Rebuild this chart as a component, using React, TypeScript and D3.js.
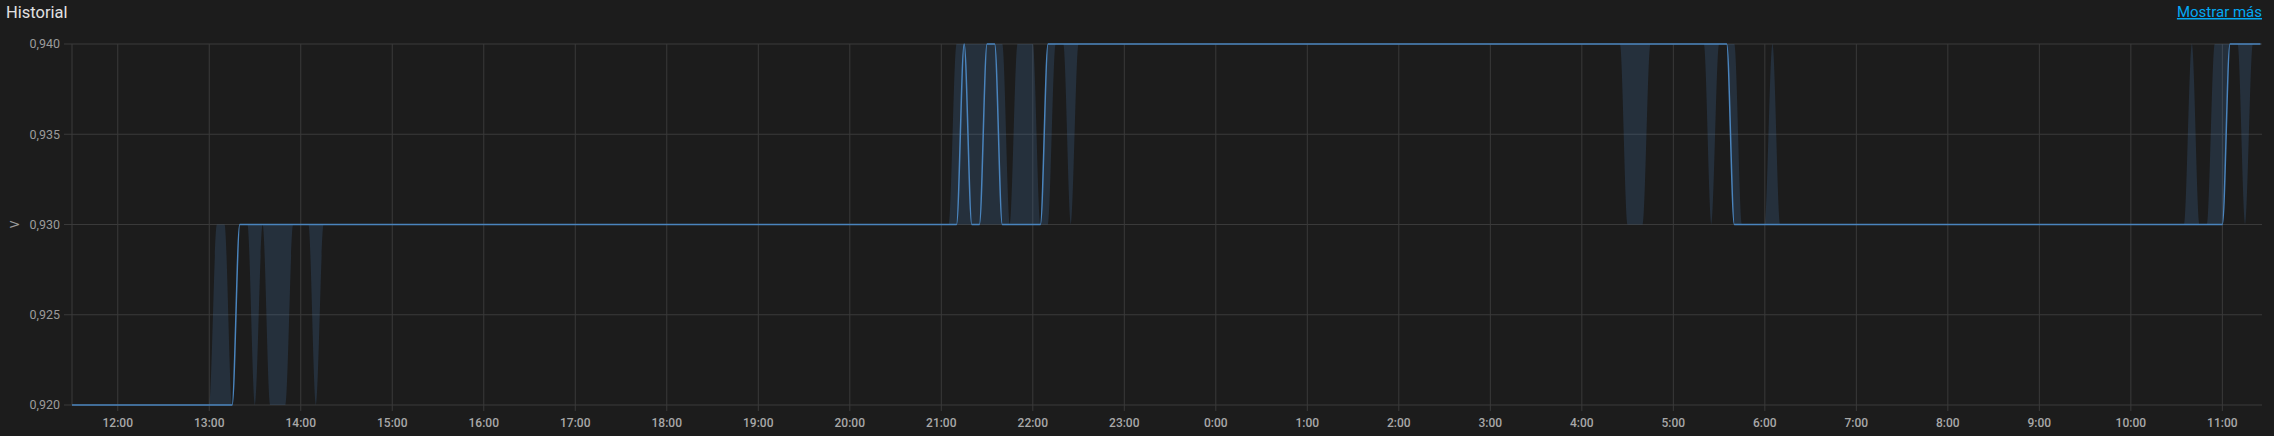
import * as d3 from "d3";
import { useEffect } from "react";

const WIDTH = 2274;
const HEIGHT = 436;
const margin = { top: 44, right: 12, bottom: 31, left: 72 };

// 5-minute statistics, only where something happens (flat stretches in between)
const times = [
  "11:30", "13:00", "13:05", "13:10", "13:15", "13:20", "13:25", "13:30", "13:35",
  "13:40", "13:45", "13:50", "13:55", "14:05", "14:10", "14:15",
  "21:05", "21:10", "21:15", "21:20", "21:25", "21:30", "21:35", "21:40", "21:45",
  "21:50", "21:55", "22:00", "22:05", "22:10", "22:15", "22:20", "22:25", "22:30",
  "4:25", "4:30", "4:35", "4:40", "4:45", "5:20", "5:25", "5:30", "5:35", "5:40",
  "5:45", "6:00", "6:05", "6:10", "10:35", "10:40", "10:45", "10:50", "10:55",
  "11:00", "11:05", "11:10", "11:15", "11:20", "11:25",
];
const meanValues = [
  0.92, 0.92, 0.92, 0.92, 0.92, 0.93, 0.93, 0.93, 0.93,
  0.93, 0.93, 0.93, 0.93, 0.93, 0.93, 0.93,
  0.93, 0.93, 0.94, 0.93, 0.93, 0.94, 0.94, 0.93, 0.93,
  0.93, 0.93, 0.93, 0.93, 0.94, 0.94, 0.94, 0.94, 0.94,
  0.94, 0.94, 0.94, 0.94, 0.94, 0.94, 0.94, 0.94, 0.94, 0.93,
  0.93, 0.93, 0.93, 0.93, 0.93, 0.93, 0.93, 0.93, 0.93,
  0.93, 0.94, 0.94, 0.94, 0.94, 0.94,
];
const minValues = [
  0.92, 0.92, 0.92, 0.92, 0.92, 0.93, 0.93, 0.92, 0.93,
  0.92, 0.92, 0.92, 0.93, 0.93, 0.92, 0.93,
  0.93, 0.93, 0.93, 0.93, 0.93, 0.93, 0.93, 0.93, 0.93,
  0.93, 0.93, 0.93, 0.93, 0.93, 0.94, 0.94, 0.93, 0.94,
  0.94, 0.93, 0.93, 0.93, 0.94, 0.94, 0.93, 0.94, 0.94, 0.93,
  0.93, 0.93, 0.93, 0.93, 0.93, 0.93, 0.93, 0.93, 0.93,
  0.93, 0.94, 0.94, 0.93, 0.94, 0.94,
];
const maxValues = [
  0.92, 0.92, 0.93, 0.93, 0.92, 0.93, 0.93, 0.93, 0.93,
  0.93, 0.93, 0.93, 0.93, 0.93, 0.93, 0.93,
  0.93, 0.94, 0.94, 0.94, 0.94, 0.94, 0.94, 0.94, 0.93,
  0.94, 0.94, 0.94, 0.93, 0.94, 0.94, 0.94, 0.94, 0.94,
  0.94, 0.94, 0.94, 0.94, 0.94, 0.94, 0.94, 0.94, 0.94, 0.94,
  0.93, 0.93, 0.94, 0.93, 0.93, 0.94, 0.93, 0.93, 0.94,
  0.94, 0.94, 0.94, 0.94, 0.94, 0.94,
];

const yTicks = [0.92, 0.925, 0.93, 0.935, 0.94];
const rangeStart = "11:30";
const rangeEnd = "11:26";
const title = "Historial";
const linkText = "Mostrar más";
const unit = "V";

const LINE = "#4a84bd";
const BAND = "rgba(74,132,189,0.2)";
const GRID = "#3a3a3a";
const FONT = "Roboto, 'Noto Sans', sans-serif";

const toMinutes = (s: string) => {
  const [h, m] = s.split(":").map(Number);
  return h * 60 + m;
};

// times roll over midnight, so add a day when the clock goes backwards
const parseTimes = (list: string[]) => {
  let day = 0;
  let prev = -1;
  return list.map((s) => {
    const m = toMinutes(s);
    if (m < prev) day += 1;
    prev = m;
    return new Date(2024, 0, 1 + day, Math.floor(m / 60), m % 60);
  });
};

type Row = { t: Date; mean: number; min: number; max: number };

const App = () => {
  useEffect(() => {
    document.body.style.margin = "0";
    document.body.style.background = "#1c1c1c";
  }, []);

  const dates = parseTimes(times);
  const rows: Row[] = dates.map((t, i) => ({
    t,
    mean: meanValues[i],
    min: minValues[i],
    max: maxValues[i],
  }));

  const start = parseTimes([rangeStart])[0];
  const endM = toMinutes(rangeEnd);
  const end = new Date(2024, 0, 2, Math.floor(endM / 60), endM % 60);

  const x = d3
    .scaleTime()
    .domain([start, end])
    .range([margin.left, WIDTH - margin.right]);
  const y = d3
    .scaleLinear()
    .domain([0.92, 0.94])
    .range([HEIGHT - margin.bottom, margin.top]);

  const locale = d3.formatLocale({
    decimal: ",",
    thousands: ".",
    grouping: [3],
    currency: ["", "€"],
  });
  const fmtY = locale.format(".3f");
  const fmtX = d3.timeFormat("%-H:%M");
  const xTicks = x.ticks(d3.timeHour.every(1)!);

  const line = d3
    .line<Row>()
    .x((d) => x(d.t))
    .y((d) => y(d.mean))
    .curve(d3.curveMonotoneX);
  const band = d3
    .area<Row>()
    .x((d) => x(d.t))
    .y0((d) => y(d.min))
    .y1((d) => y(d.max))
    .curve(d3.curveMonotoneX);

  const [x0, x1] = x.range();
  const [yb, yt] = y.range();

  return (
    <svg width={WIDTH} height={HEIGHT} style={{ display: "block", background: "#1c1c1c" }}>
      <text x={6} y={18} fill="#e1e1e1" fontFamily={FONT} fontSize={16.5}>
        {title}
      </text>
      <text
        x={x1}
        y={17}
        fill="#03a9f4"
        fontFamily={FONT}
        fontSize={15}
        textAnchor="end"
        textDecoration="underline"
      >
        {linkText}
      </text>

      {/* grid */}
      {yTicks.map((v) => (
        <g key={v}>
          <line x1={x0 - 8} x2={x1} y1={y(v)} y2={y(v)} stroke={GRID} />
          <text
            x={x0 - 12}
            y={y(v)}
            dy="0.35em"
            fill="#9b9b9b"
            fontFamily={FONT}
            fontSize={12.5}
            textAnchor="end"
          >
            {fmtY(v)}
          </text>
        </g>
      ))}
      <line x1={x0} x2={x0} y1={yt} y2={yb} stroke={GRID} />
      {xTicks.map((t) => (
        <g key={t.getTime()}>
          <line x1={x(t)} x2={x(t)} y1={yt} y2={yb + 6} stroke={GRID} />
          <text
            x={x(t)}
            y={yb + 22}
            fill="#a8a8a8"
            fontFamily={FONT}
            fontSize={12}
            fontWeight={500}
            textAnchor="middle"
          >
            {fmtX(t)}
          </text>
        </g>
      ))}
      <text
        transform={`translate(15,${(yt + yb) / 2}) rotate(-90)`}
        fill="#9b9b9b"
        fontFamily={FONT}
        fontSize={12}
        textAnchor="middle"
        dy="0.35em"
      >
        {unit}
      </text>

      <path d={band(rows) ?? ""} fill={BAND} stroke="none" />
      <path d={line(rows) ?? ""} fill="none" stroke={LINE} strokeWidth={1.5} />
    </svg>
  );
};

export default App;
